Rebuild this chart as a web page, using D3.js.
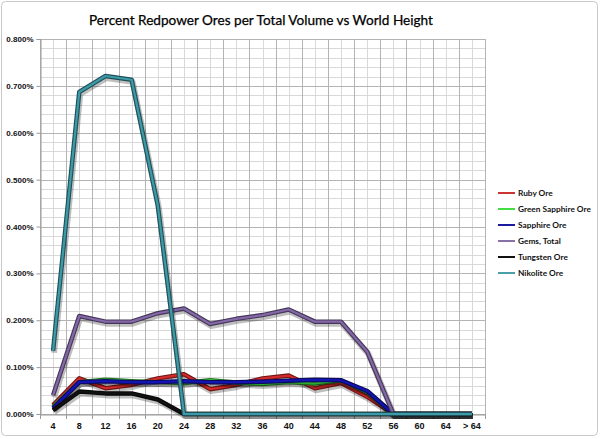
<!DOCTYPE html>
<html><head><meta charset="utf-8">
<script src="https://cdn.jsdelivr.net/npm/d3@7"></script>
<style>body{margin:0;background:#fff;}svg{display:block;font-family:Lato,"Open Sans",sans-serif;}</style>
</head><body><svg id="c" width="600" height="439"></svg>
<script>
const categories = ["4","8","12","16","20","24","28","32","36","40","44","48","52","56","60","64","> 64"];
const seriesNames = ["Ruby Ore","Green Sapphire Ore","Sapphire Ore","Gems, Total","Tungsten Ore","Nikolite Ore"];
const seriesColors = ["#d42a2a","#3ee03e","#1414b4","#8468a8","#111111","#3d9aa8"];
const ruby     = [0.019,0.076,0.055,0.062,0.076,0.085,0.053,0.062,0.076,0.082,0.055,0.066,0.037,0,0,0,0];
const green    = [0.015,0.068,0.073,0.070,0.068,0.066,0.072,0.067,0.064,0.068,0.065,0.072,0.047,0,0,0,0];
const sapphire = [0.012,0.068,0.070,0.068,0.068,0.070,0.068,0.068,0.069,0.071,0.073,0.072,0.049,0,0,0,0];
const gems     = [0.040,0.209,0.197,0.197,0.215,0.225,0.192,0.203,0.211,0.223,0.197,0.197,0.133,0,0,0,0];
const tungsten = [0.008,0.048,0.044,0.044,0.031,0,0,0,0,0,0,0,0,0,0,0,0];
const nikolite = [0.135,0.687,0.721,0.713,0.445,0,0,0,0,0,0,0,0,0,0,0,0];
const yTicks = [0,0.1,0.2,0.3,0.4,0.5,0.6,0.7,0.8];

const seriesData = [ruby, green, sapphire, gems, tungsten, nikolite];
const svg = d3.select("#c");
const L = 40, R = 485, T = 39, B = 414;

// outer border
svg.append("rect").attr("x",1.5).attr("y",1.5).attr("width",596).attr("height",434)
  .attr("rx",4).attr("fill","#fff").attr("stroke","#c8c8c8").attr("stroke-width",1);

svg.append("text").attr("x",261).attr("y",25).attr("text-anchor","middle")
  .attr("font-size",13.6).attr("font-family","Lato, 'Open Sans', sans-serif").attr("fill","#000")
  .attr("stroke","#000").attr("stroke-width",0.25)
  .text("Percent Redpower Ores per Total Volume vs World Height");

const x = d3.scaleBand().domain(categories).range([L,R]).padding(0);
const y = d3.scaleLinear().domain([0,0.8]).range([B,T]);
const cx = c => x(c) + x.bandwidth()/2;

const grid = svg.append("g");
d3.range(0, 0.8001, 0.02).forEach(v => {
  grid.append("line").attr("x1",L).attr("x2",R).attr("y1",Math.round(y(v))+0.5).attr("y2",Math.round(y(v))+0.5)
    .attr("stroke","#d9d9d9").attr("stroke-width",1);
});
categories.forEach(c => {
  grid.append("line").attr("x1",Math.round(cx(c))+0.5).attr("x2",Math.round(cx(c))+0.5).attr("y1",T).attr("y2",B)
    .attr("stroke","#d9d9d9").attr("stroke-width",1);
});
yTicks.forEach(v => {
  grid.append("line").attr("x1",L).attr("x2",R).attr("y1",Math.round(y(v))+0.5).attr("y2",Math.round(y(v))+0.5)
    .attr("stroke","#b4b4b4").attr("stroke-width",1);
});
categories.forEach(c => {
  const xx = Math.round(x(c))+0.5;
  grid.append("line").attr("x1",xx).attr("x2",xx).attr("y1",T).attr("y2",B)
    .attr("stroke","#b4b4b4").attr("stroke-width",1);
});
grid.append("line").attr("x1",R+0.5).attr("x2",R+0.5).attr("y1",T).attr("y2",B).attr("stroke","#b4b4b4");

const yAxis = d3.axisLeft(y).tickValues(yTicks).tickFormat(d => d3.format(".3f")(d)+"%").tickSize(4).tickPadding(3);
const gy = svg.append("g").attr("transform",`translate(${L+0.5},0)`).call(yAxis);
gy.select(".domain").attr("stroke","#9a9a9a");
gy.selectAll(".tick line").attr("stroke","#9a9a9a");
gy.selectAll("text").attr("font-size",8).attr("font-weight","bold").attr("fill","#111");

const xAxis = d3.axisBottom(x).tickSize(0).tickPadding(8);
const gx = svg.append("g").attr("transform",`translate(0,${B+0.5})`).call(xAxis);
gx.select(".domain").attr("stroke","#9a9a9a");
gx.selectAll("text").attr("font-size",9).attr("font-weight","bold").attr("fill","#111");
categories.forEach(c => {
  svg.append("line").attr("x1",Math.round(x(c))+0.5).attr("x2",Math.round(x(c))+0.5)
    .attr("y1",B).attr("y2",B+5).attr("stroke","#9a9a9a");
});
svg.append("line").attr("x1",R+0.5).attr("x2",R+0.5).attr("y1",B).attr("y2",B+5).attr("stroke","#9a9a9a");

const line = d3.line().x((d,i) => cx(categories[i])).y(d => y(d));
const lg = svg.append("g");
seriesData.forEach((s,k) => {
  lg.append("path").attr("d",line(s)).attr("fill","none").attr("stroke","rgba(0,0,0,0.25)")
    .attr("stroke-width",6).attr("stroke-linejoin","round").attr("transform","translate(1,2)");
  lg.append("path").attr("d",line(s)).attr("fill","none").attr("stroke",d3.color(seriesColors[k]).darker(1.8))
    .attr("stroke-width",4.5).attr("stroke-linejoin","round");
  lg.append("path").attr("d",line(s)).attr("fill","none").attr("stroke",seriesColors[k])
    .attr("stroke-width",2.2).attr("stroke-linejoin","round");
});

const legColors = ["#cc3333","#44dd44","#1a1aa0","#8a70a8","#111111","#4aa0a8"];
const leg = svg.append("g");
seriesNames.forEach((n,i) => {
  const yy = 193 + i*16;
  leg.append("line").attr("x1",498).attr("x2",515).attr("y1",yy).attr("y2",yy).attr("stroke",legColors[i]).attr("stroke-width",2);
  leg.append("text").attr("x",518).attr("y",yy+3).attr("font-size",8.3).attr("font-weight","bold").attr("fill","#111").text(n);
});
</script></body></html>
